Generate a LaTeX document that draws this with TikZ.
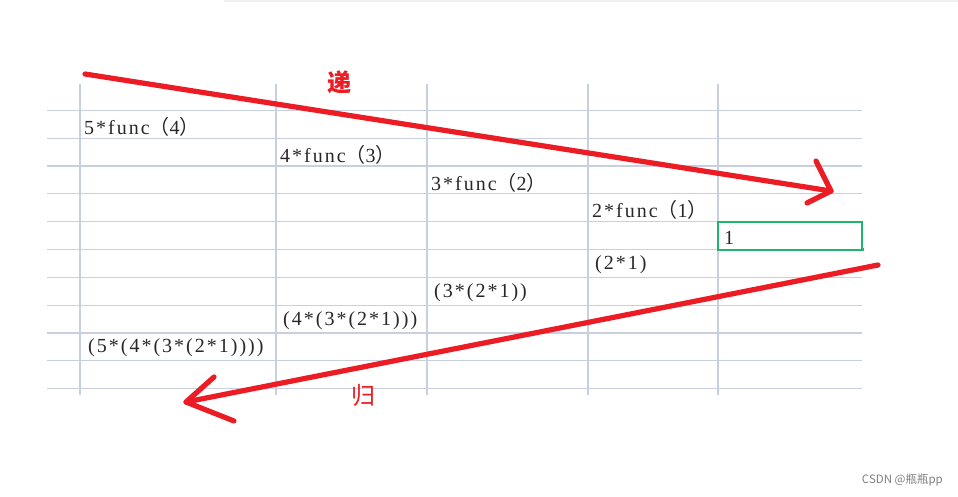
\documentclass[tikz,border=0pt]{standalone}
\usepackage{fontspec}
\setmainfont{Liberation Serif}
\newfontfamily\cellfont[LetterSpace=10]{Liberation Serif}
\newfontfamily\cjk{Noto Sans CJK SC}
\newcommand{\fwl}{{\cjk （}}
\newcommand{\fwr}{{\cjk ）}}
\definecolor{gridblue}{RGB}{200,208,224}
\definecolor{markred}{RGB}{236,28,36}
\definecolor{selgreen}{RGB}{33,180,110}
\definecolor{celltext}{RGB}{40,40,40}
\tikzset{
  gridline/.style={draw=gridblue, line width=1.2pt},
  redstroke/.style={draw=markred, line width=5.2pt, line cap=round, line join=round},
  cell/.style={anchor=west, inner sep=0pt, text=celltext, font=\cellfont\fontsize{20}{22}\selectfont},
  redsign/.style={text=markred, inner sep=0pt, font=\cjk\fontsize{24}{26}\selectfont},
}

\begin{document}
\begin{tikzpicture}[x=1pt, y=-1pt]
			%%%%% START %%%%%
			\useasboundingbox[fill=white] (0, 0) rectangle (958, 497);
			\fill[black!6] (224, 0) rectangle (958, 2);
			
			% sheet columns
			\draw[gridline] (80, 84) -- (80, 395);
			\draw[gridline] (276, 84) -- (276, 395);
			\draw[gridline] (427, 84) -- (427, 395);
			\draw[gridline] (588, 84) -- (588, 395);
			\draw[gridline] (718, 84) -- (718, 395);
			
			% sheet rows
			\draw[gridline] (47, 110.5) -- (862, 110.5);
			\draw[gridline] (47, 138.3) -- (862, 138.3);
			\draw[gridline] (47, 166.1) -- (862, 166.1);
			\draw[gridline] (47, 193.9) -- (862, 193.9);
			\draw[gridline] (47, 221.7) -- (862, 221.7);
			\draw[gridline] (47, 249.5) -- (862, 249.5);
			\draw[gridline] (47, 277.3) -- (862, 277.3);
			\draw[gridline] (47, 305.1) -- (862, 305.1);
			\draw[gridline] (47, 332.9) -- (862, 332.9);
			\draw[gridline] (47, 360.7) -- (862, 360.7);
			\draw[gridline] (47, 388.5) -- (862, 388.5);
			
			% selected cell
			\draw[selgreen, line width=2pt] (718, 221.7) rectangle (862, 249.5);
			\fill[selgreen] (860.5, 248) rectangle (863.5, 251);
			
			% calls going down
			\node[cell] (call5) at (84, 127) {5*func\fwl 4\fwr};
			\node[cell] (call4) at (280, 155) {4*func\fwl 3\fwr};
			\node[cell] (call3) at (431, 183) {3*func\fwl 2\fwr};
			\node[cell] (call2) at (592, 210) {2*func\fwl 1\fwr};
			\node[cell] (base) at (724, 238) {1};
			
			% results coming back
			\node[cell] (ret2) at (595, 265) {(2*1)};
			\node[cell] (ret3) at (434, 293) {(3*(2*1))};
			\node[cell] (ret4) at (283, 321) {(4*(3*(2*1)))};
			\node[cell] (ret5) at (88, 348) {(5*(4*(3*(2*1))))};
			
			% arrow: di
			\coordinate (diA) at (85, 74);
			\coordinate (diB) at (831, 191);
			\draw[redstroke] (diA) -- (diB);
			\draw[redstroke] (816, 161) -- (diB) -- (807, 203);
			\node[redsign, font=\cjk\bfseries\fontsize{24}{26}\selectfont] (di) at (339, 82) {递};
			
			% arrow: gui
			\coordinate (guiA) at (878, 265);
			\coordinate (guiB) at (186, 402);
			\draw[redstroke] (guiA) -- (guiB);
			\draw[redstroke] (214, 377) -- (guiB) -- (234, 421);
			\node[redsign] (gui) at (363, 395) {归};
			
			\node[anchor=east, inner sep=0pt, text=black!50, font=\cjk\fontsize{11.5}{13}\selectfont] (wm) at (943, 480) {CSDN @瓶瓶pp};
			%%%%% END %%%%%
		\end{tikzpicture}
\end{document}
